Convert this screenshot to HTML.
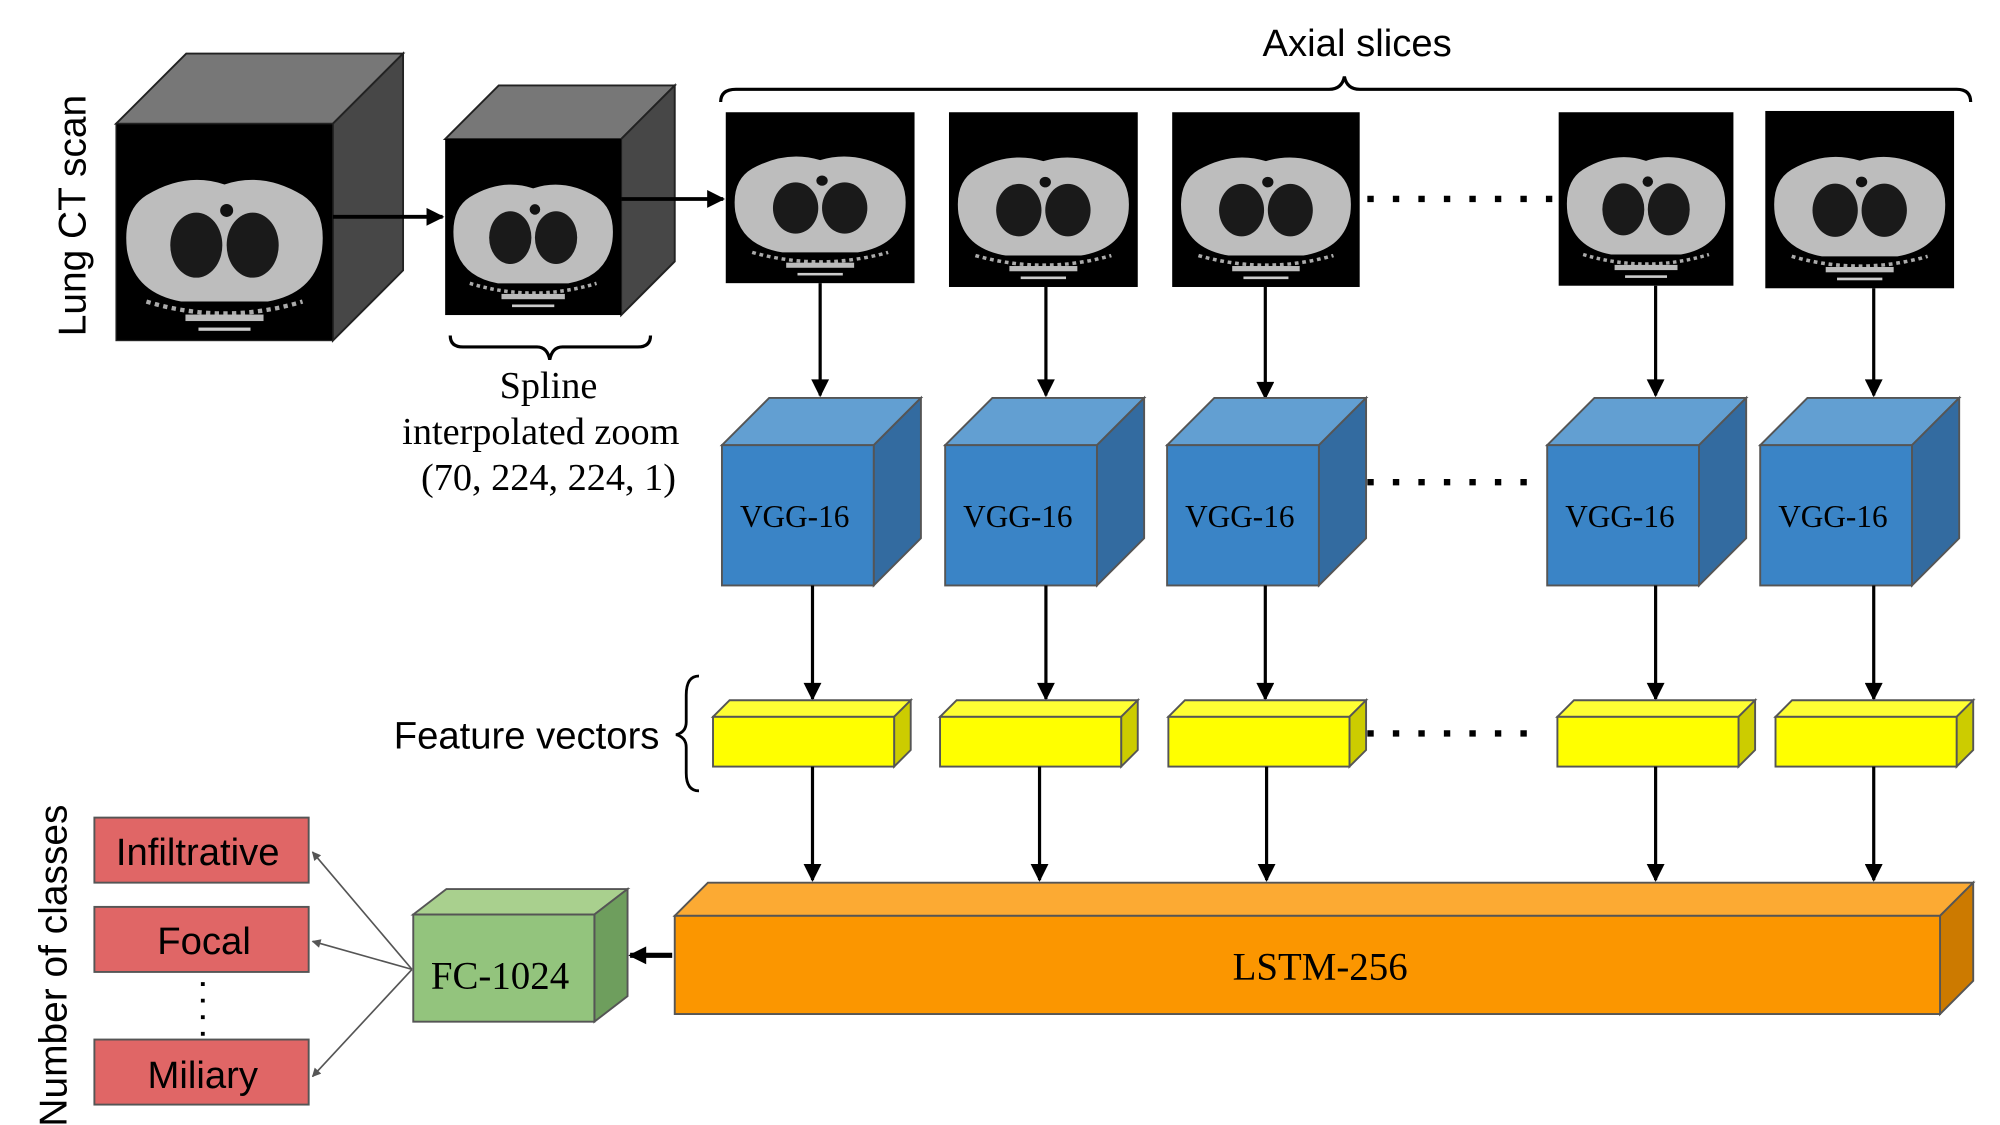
<!DOCTYPE html>
<html><head><meta charset="utf-8"><style>
html,body{margin:0;padding:0;background:#fff;}
svg{display:block;}
.sans{font-family:"Liberation Sans",sans-serif;}
.serif{font-family:"Liberation Serif",serif;}
</style></head><body>
<svg width="2000" height="1125" viewBox="0 0 1568 882" xmlns="http://www.w3.org/2000/svg">
<defs>
<marker id="ahl" viewBox="0 0 10 10" refX="9" refY="5" markerWidth="18" markerHeight="14" orient="auto" markerUnits="userSpaceOnUse"><path d="M0,0 L10,5 L0,10 z" fill="#000"/></marker>
<marker id="ahg" viewBox="0 0 10 10" refX="9" refY="5" markerWidth="9" markerHeight="7" orient="auto" markerUnits="userSpaceOnUse"><path d="M0,0 L10,5 L0,10 z" fill="#555"/></marker>
<g id="ct">
<rect x="0" y="0" width="100" height="100" fill="#000"/>
<path d="M5,58 Q3,40 14,33 Q32,22 50,28 Q68,22 86,33 Q97,40 95,58 Q92,78 70,82 L30,82 Q8,78 5,58 z" fill="#bdbdbd"/>
<ellipse cx="37" cy="56" rx="12" ry="15" fill="#1a1a1a"/>
<ellipse cx="63" cy="56" rx="12" ry="15" fill="#1a1a1a"/>
<circle cx="51" cy="40" r="3" fill="#111"/>
<path d="M14,82 Q50,93 86,82" stroke="#aaa" stroke-width="2" fill="none" stroke-dasharray="2 2"/>
<rect x="32" y="88" width="36" height="3" fill="#bbb"/>
<rect x="38" y="94" width="24" height="1.5" fill="#ccc"/>
</g>
</defs>

<text class="sans" font-size="30.5" transform="translate(67,169) rotate(-90)" text-anchor="middle">Lung CT scan</text>

<polygon points="91,97 146,42 316,42 261,97" fill="#777" stroke="#222" stroke-width="1.5"/>
<polygon points="261,97 316,42 316,212 261,267" fill="#474747" stroke="#222" stroke-width="1.5"/>
<use href="#ct" transform="translate(91,97) scale(1.7,1.7)"/>
<rect x="91" y="97" width="170" height="170" fill="none" stroke="#222" stroke-width="1"/>

<polygon points="349,109 391,67 529,67 487,109" fill="#777" stroke="#222" stroke-width="1.5"/>
<polygon points="487,109 529,67 529,205 487,247" fill="#474747" stroke="#222" stroke-width="1.5"/>
<use href="#ct" transform="translate(349,109) scale(1.38,1.38)"/>

<line x1="261" y1="170" x2="347" y2="170" stroke="#000" stroke-width="3" marker-end="url(#ahl)"/>
<line x1="487" y1="156" x2="567" y2="156" stroke="#000" stroke-width="3" marker-end="url(#ahl)"/>

<path d="M353,263 Q353,272 363,272 L421,272 Q429,272 431,282 Q433,272 441,272 L500,272 Q510,272 510,263" fill="none" stroke="#000" stroke-width="2.5"/>
<text class="serif" font-size="30" x="430" y="312" text-anchor="middle">Spline</text>
<text class="serif" font-size="30" x="424" y="348" text-anchor="middle">interpolated zoom</text>
<text class="serif" font-size="30" x="430" y="384" text-anchor="middle">(70, 224, 224, 1)</text>

<text class="sans" font-size="30" x="1064" y="44" text-anchor="middle">Axial slices</text>
<path d="M565,80 Q565,70 577,70 L1042,70 Q1052,70 1054,60 Q1056,70 1066,70 L1534,70 Q1545,70 1545,80" fill="none" stroke="#000" stroke-width="2.5"/>

<use href="#ct" transform="translate(569,88) scale(1.48,1.34)"/>
<use href="#ct" transform="translate(744,88) scale(1.48,1.37)"/>
<use href="#ct" transform="translate(919,88) scale(1.47,1.37)"/>
<use href="#ct" transform="translate(1222,88) scale(1.37,1.36)"/>
<use href="#ct" transform="translate(1384,87) scale(1.48,1.39)"/>
<line x1="1072" y1="156" x2="1218" y2="156" stroke="#000" stroke-width="5" stroke-dasharray="5 15"/>

<g stroke="#000" stroke-width="2.5" marker-end="url(#ahl)">
<line x1="643" y1="222" x2="643" y2="310"/>
<line x1="820" y1="225" x2="820" y2="310"/>
<line x1="992" y1="225" x2="992" y2="312"/>
<line x1="1298" y1="224" x2="1298" y2="310"/>
<line x1="1469" y1="226" x2="1469" y2="310"/>
</g>

<g stroke="#555" stroke-width="1.5">
<g id="vgg">
<polygon points="566,349 603,312 722,312 685,349" fill="#629fd2"/>
<polygon points="685,349 722,312 722,422 685,459" fill="#336ba0"/>
<rect x="566" y="349" width="119" height="110" fill="#3a84c6"/>
</g>
<use href="#vgg" transform="translate(175,0)"/>
<use href="#vgg" transform="translate(349,0)"/>
<use href="#vgg" transform="translate(647,0)"/>
<use href="#vgg" transform="translate(814,0)"/>
</g>
<g class="serif" font-size="24.5" text-anchor="middle">
<text x="623" y="413">VGG-16</text>
<text x="798" y="413">VGG-16</text>
<text x="972" y="413">VGG-16</text>
<text x="1270" y="413">VGG-16</text>
<text x="1437" y="413">VGG-16</text>
</g>
<line x1="1072" y1="378" x2="1210" y2="378" stroke="#000" stroke-width="5" stroke-dasharray="5 15"/>

<g stroke="#000" stroke-width="2.5" marker-end="url(#ahl)">
<line x1="637" y1="459" x2="637" y2="548"/>
<line x1="820" y1="459" x2="820" y2="548"/>
<line x1="992" y1="459" x2="992" y2="548"/>
<line x1="1298" y1="459" x2="1298" y2="548"/>
<line x1="1469" y1="459" x2="1469" y2="548"/>
</g>

<text class="sans" font-size="30" x="517" y="587" text-anchor="end">Feature vectors</text>
<path d="M548,530 Q538,530 538,545 L538,566 Q538,574 530,576 Q538,578 538,586 L538,606 Q538,620 548,620" fill="none" stroke="#000" stroke-width="2.2"/>
<g stroke="#555" stroke-width="1.5">
<g id="fv">
<polygon points="559,562 572,549 714,549 701,562" fill="#ffff33"/>
<polygon points="701,562 714,549 714,588 701,601" fill="#cccc00"/>
<rect x="559" y="562" width="142" height="39" fill="#ffff00"/>
</g>
<use href="#fv" transform="translate(178,0)"/>
<use href="#fv" transform="translate(357,0)"/>
<use href="#fv" transform="translate(662,0)"/>
<use href="#fv" transform="translate(833,0)"/>
</g>
<line x1="1072" y1="575" x2="1210" y2="575" stroke="#000" stroke-width="5" stroke-dasharray="5 15"/>

<g stroke="#000" stroke-width="2.5" marker-end="url(#ahl)">
<line x1="637" y1="601" x2="637" y2="690"/>
<line x1="815" y1="601" x2="815" y2="690"/>
<line x1="993" y1="601" x2="993" y2="690"/>
<line x1="1298" y1="601" x2="1298" y2="690"/>
<line x1="1469" y1="601" x2="1469" y2="690"/>
</g>

<g stroke="#555" stroke-width="1.5">
<polygon points="529,718 555,692 1547,692 1521,718" fill="#fcaa33"/>
<polygon points="1521,718 1547,692 1547,769 1521,795" fill="#cc7a00"/>
<rect x="529" y="718" width="992" height="77" fill="#fb9600"/>
</g>
<text class="serif" font-size="30.5" x="1035" y="768" text-anchor="middle">LSTM-256</text>

<line x1="527" y1="749" x2="494" y2="749" stroke="#000" stroke-width="4" marker-end="url(#ahl)"/>

<g stroke="#555" stroke-width="1.5">
<polygon points="324,717 350,697 492,697 466,717" fill="#a9d08e"/>
<polygon points="466,717 492,697 492,781 466,801" fill="#6e9e5d"/>
<rect x="324" y="717" width="142" height="84" fill="#93c47d"/>
</g>
<text class="serif" font-size="30.5" x="392" y="775" text-anchor="middle">FC-1024</text>

<text class="sans" font-size="30.5" transform="translate(52,757) rotate(-90)" text-anchor="middle">Number of classes</text>
<g stroke="#555" stroke-width="1.5" fill="#e06666">
<rect x="74" y="641" width="168" height="51"/>
<rect x="74" y="711" width="168" height="51"/>
<rect x="74" y="815" width="168" height="51"/>
</g>
<g class="sans" font-size="30" text-anchor="middle">
<text x="155" y="678">Infiltrative</text>
<text x="160" y="748">Focal</text>
<text x="159" y="853">Miliary</text>
</g>
<line x1="159" y1="770" x2="159" y2="812" stroke="#000" stroke-width="3" stroke-dasharray="3 10"/>
<g stroke="#555" stroke-width="1.3" marker-end="url(#ahg)">
<line x1="323" y1="760" x2="245" y2="668"/>
<line x1="323" y1="760" x2="245" y2="738"/>
<line x1="323" y1="760" x2="245" y2="844"/>
</g>
</svg>
</body></html>
